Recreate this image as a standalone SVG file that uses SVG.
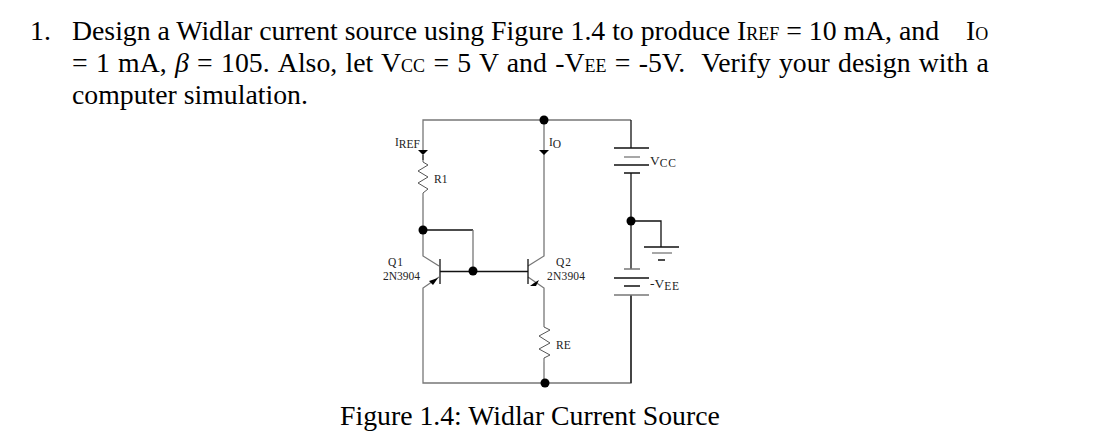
<svg xmlns="http://www.w3.org/2000/svg" width="1096" height="433" viewBox="0 0 1096 433">
<style>
.t{font-family:"Liberation Serif","Times New Roman",serif;font-size:27.75px;fill:#000;white-space:pre}
.s{font-size:18px}
.l{font-family:"Liberation Serif",serif;font-size:11.5px;fill:#222}
.ls{font-family:"Liberation Serif",serif;font-size:11.5px;fill:#222}
.w{fill:none;stroke:#777;stroke-width:1.3}
.b{fill:none;stroke:#111;stroke-width:1.3}
.z{fill:none;stroke:#555;stroke-width:1}
.d{fill:#000}
</style>
<rect width="1096" height="433" fill="#fff"/>
<g id="problem-text">
<text class="t" x="30" y="40">1.</text>
<text class="t" x="72" y="40">Design a Widlar current source using Figure 1.4 to produce I<tspan class="s">REF</tspan> = 10 mA, and</text>
<text class="t" x="966" y="40">I<tspan class="s">O</tspan></text>
<text class="t" x="72" y="72" word-spacing="1.35">= 1 mA, <tspan font-style="italic">β</tspan> = 105. Also, let V<tspan class="s">CC</tspan> = 5 V and -V<tspan class="s">EE</tspan> = -5V.  Verify your design with a</text>
<text class="t" x="72" y="104">computer simulation.</text>
</g>
<g id="connectors">
<path class="w" d="M423 151V120H631"/>
<path class="b" d="M631 120V148"/>
<path class="w" d="M544 120V151M544 151V256L528 266"/>
<path class="w" d="M423 197V256L439 266"/>
<path class="b" d="M423 230H473"/>
<path class="w" d="M473 230V271"/>
<path class="b" d="M440 271.500H528"/>
<path class="w" d="M439 277L423 288V383H631V295"/>
<path class="w" d="M528 277L544 288V325M544 362V383"/>
<path class="b" d="M631 173V269M631 295V383"/>
<path class="b" d="M631 221H661V247"/>
</g>
<g id="IREF-arrow"><path class="d" d="M418 150H428L423 155Z"/><path class="b" d="M423 155V160"/>
<text class="l" x="395" y="146" font-size="13">I<tspan class="ls" dy="2">REF</tspan></text></g>
<g id="IO-arrow"><path class="d" d="M539 150H549L544 155Z"/>
<text class="l" x="549" y="146" font-size="13">I<tspan class="ls" dy="2">O</tspan></text></g>
<g id="R1"><path class="z" d="M423 160V162L428 165L418 171L428 177L418 183L428 189L423 193V197"/><text class="l" x="434" y="183">R1</text></g>
<g id="RE"><path class="z" d="M544 325V327L550 330L539 336L550 343L539 349L550 355L544 358V362"/><text class="l" x="556" y="349">RE</text></g>
<g id="Q1"><path class="b" d="M440 259V284"/><path class="d" d="M438 278L433 285L429 281Z"/><text class="l" x="388" y="266" textLength="15">Q1</text><text class="l" x="383" y="280" textLength="37">2N3904</text></g>
<g id="Q2"><path class="b" d="M528 259V284"/><path class="d" d="M534 283L539 280L536 286L530 286Z"/><text class="l" x="556" y="266" textLength="15">Q2</text><text class="l" x="547" y="280" textLength="38">2N3904</text></g>
<g id="VCC"><path class="b" d="M614 148H649M614 165H649M624 173H640"/><path class="w" d="M624 157H640"/><text class="l" x="650" y="165" style="font-size:13.5px">V<tspan class="ls" dy="2" letter-spacing="0.8">CC</tspan></text></g>
<g id="VEE"><path class="b" d="M614 278H649M624 286H640"/><path class="w" d="M624 269H640M614 295H649"/><text class="l" x="650" y="288" style="font-size:13.5px">-V<tspan class="ls" dy="2" letter-spacing="0.8">EE</tspan></text></g>
<g id="ground"><path class="b" d="M644 247H679M658 260H665"/><path class="w" d="M652 253H672"/></g>
<g id="junctions"><circle class="d" cx="544" cy="120" r="4.500"/><circle class="d" cx="423" cy="230" r="4.500"/><circle class="d" cx="473" cy="271" r="4.500"/><circle class="d" cx="545" cy="383" r="4.500"/><circle class="d" cx="631" cy="221" r="4.500"/></g>
<g id="caption"><text class="t" x="340" y="425">Figure 1.4: Widlar Current Source</text></g>
</svg>
